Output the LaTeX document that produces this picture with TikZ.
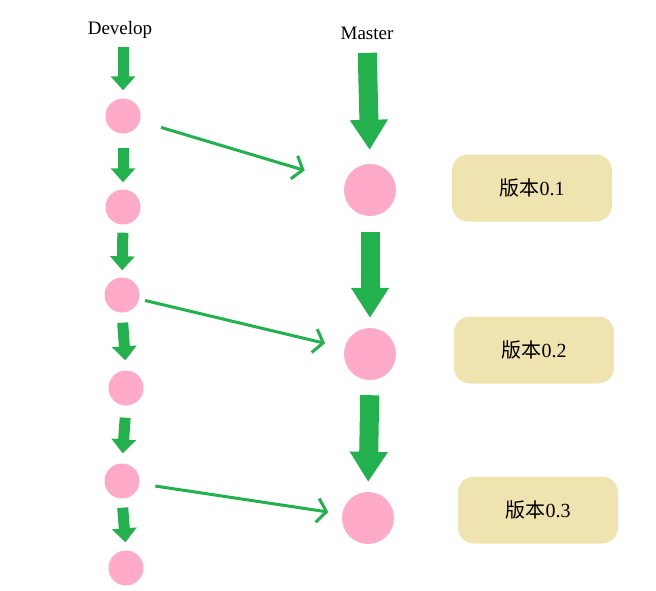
\documentclass[tikz,border=0pt]{standalone}
\usepackage{fontspec}
\setmainfont{Liberation Serif}
\newfontfamily\cjk{Noto Sans CJK SC}
\usetikzlibrary{arrows.meta}
\definecolor{gitgreen}{HTML}{22B14C}
\definecolor{gitpink}{HTML}{FFAAC9}
\definecolor{gitbeige}{HTML}{EFE4B0}
\tikzset{
  dev/.style={circle, fill=gitpink, minimum size=35pt, inner sep=0pt},
  mas/.style={circle, fill=gitpink, minimum size=52pt, inner sep=0pt},
  ver/.style={rectangle, rounded corners=16pt, fill=gitbeige, minimum width=160pt,
    minimum height=67pt, font=\fontsize{20}{24}\selectfont},
  small/.style={gitgreen, line width=11pt, -{Triangle[width=24pt,length=14pt]}},
  big/.style={gitgreen, line width=19pt, -{Triangle[width=36pt,length=30pt]}},
  merge/.style={gitgreen, line width=3pt, -{Straight Barb[length=9pt,width=24pt]}}
}
\begin{document}
\begin{tikzpicture}[x=1pt, y=-1pt, every node/.style={font=\fontsize{19}{22}\selectfont}]
  \useasboundingbox (0,0) rectangle (656,590);
  % labels
  \node (dev) at (120,30) {Develop};
  \node (mas) at (367,33) {Master};

  % develop branch
  \node[dev] (d1) at (123,116) {};
  \node[dev] (d2) at (123,207) {};
  \node[dev] (d3) at (122,295) {};
  \node[dev] (d4) at (126,388) {};
  \node[dev] (d5) at (122,481) {};
  \node[dev] (d6) at (126,568) {};

  % master branch
  \node[mas] (m1) at (370,190) {};
  \node[mas] (m2) at (370,354) {};
  \node[mas] (m3) at (368,518) {};

  % versions
  \node[ver] (v1) at (532,188) {{\cjk 版本}0.1};
  \node[ver] (v2) at (534,350) {{\cjk 版本}0.2};
  \node[ver] (v3) at (538,510) {{\cjk 版本}0.3};

  % develop arrows
  \draw[small, shorten <=5pt, shorten >=8pt] (dev.south -| d1) -- (d1.north);
  \draw[small, shorten <=14pt, shorten >=7pt] (d1.south) -- (d2.north);
  \draw[small, shorten <=8pt, shorten >=7pt] (d2.south) -- (d3.north);
  \draw[small, shorten <=10pt, shorten >=10pt] (d3.south) -- (d4.north);
  \draw[small, shorten <=12pt, shorten >=10pt] (d4.south) -- (d5.north);
  \draw[small, shorten <=9pt, shorten >=8pt] (d5.south) -- (d6.north);

  % master arrows
  \draw[big, shorten <=10pt, shorten >=14pt] (mas.south) -- (m1.north);
  \draw[big, shorten <=16pt, shorten >=10pt] (m1.south) -- (m2.north);
  \draw[big, shorten <=15pt, shorten >=10pt] (m2.south) -- (m3.north);

  % merges
  \draw[merge, shorten <=22pt, shorten >=42pt] (d1) -- (m1);
  \draw[merge, shorten <=6pt, shorten >=20pt] (d3) -- (m2);
  \draw[merge, shorten <=16pt, shorten >=14pt] (d5) -- (m3);
\end{tikzpicture}
\end{document}
